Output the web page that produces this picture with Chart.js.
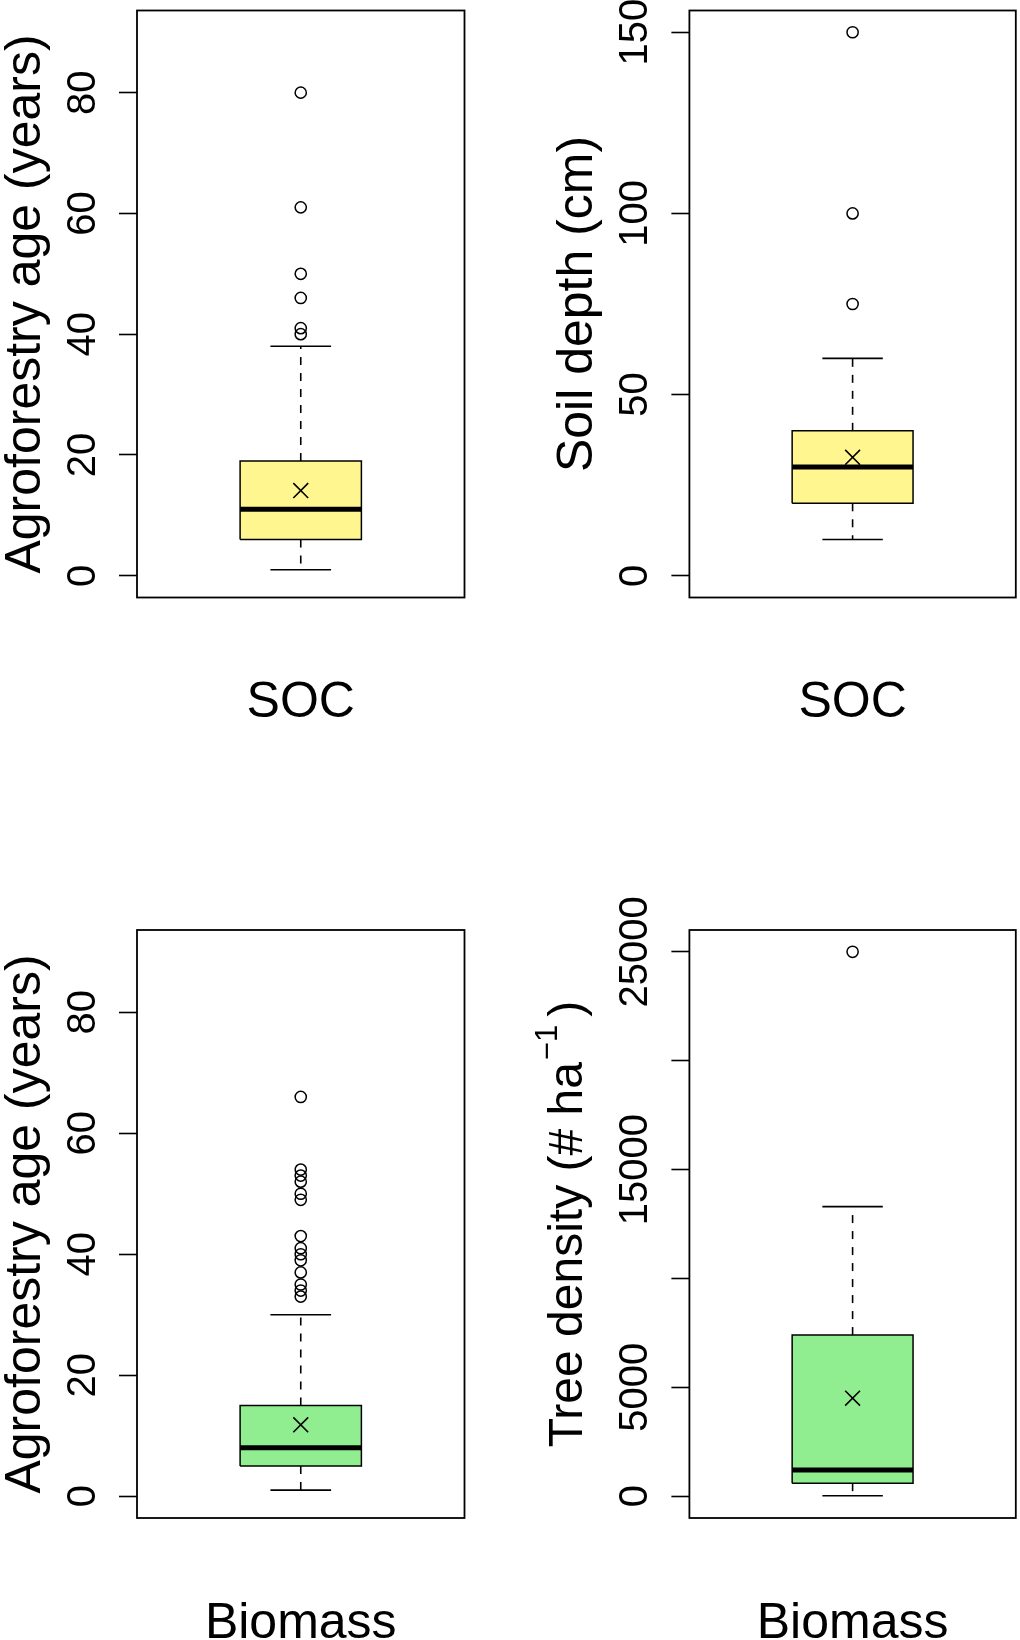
<!DOCTYPE html>
<html>
<head>
<meta charset="utf-8">
<script src="https://cdn.jsdelivr.net/npm/chart.js@4.4.1/dist/chart.umd.min.js"></script>
<style>
html,body{margin:0;padding:0;background:#fff;width:1020px;height:1640px;overflow:hidden}
canvas{position:absolute}
</style>
</head>
<body>
<canvas id="c0" width="510" height="820" style="left:0px;top:0px"></canvas>
<canvas id="c1" width="510" height="820" style="left:510px;top:0px"></canvas>
<canvas id="c2" width="510" height="820" style="left:0px;top:820px"></canvas>
<canvas id="c3" width="510" height="820" style="left:510px;top:820px"></canvas>
<script>
// ---------------- DATA ----------------
const panelCategories = ["SOC", "SOC", "Biomass", "Biomass"];
const panelYTitles = ["Agroforestry age (years)", "Soil depth (cm)", "Agroforestry age (years)", "Tree density (# ha"];
const panelYTitleSup = ["", "", "", "\u22121"];
const panelYTitleTail = ["", "", "", ")"];

const whiskerLow  = [1, 10, 1, 20];
const quartile1   = [6, 20, 5, 600];
const medians     = [11, 30, 8, 1200];
const quartile3   = [19, 40, 15, 7400];
const whiskerHigh = [38, 60, 30, 13300];
const means       = [14.1, 32.7, 11.8, 4500];

const outliersSocAge     = [80, 61, 50, 46, 41, 40];
const outliersSocDepth   = [150, 100, 75];
const outliersBioAge     = [66, 54, 53, 52, 50, 49, 43, 41, 40, 39, 37, 35, 34, 33];
const outliersBioDensity = [25000];
const panelOutliers = [outliersSocAge, outliersSocDepth, outliersBioAge, outliersBioDensity];

const ticksAge = [0, 20, 40, 60, 80];
const tickLabelsAge = ["0", "20", "40", "60", "80"];
const ticksDepth = [0, 50, 100, 150];
const tickLabelsDepth = ["0", "50", "100", "150"];
const ticksDensity = [0, 5000, 10000, 15000, 20000, 25000];
const tickLabelsDensity = ["0", "5000", "", "15000", "", "25000"];
const panelTicks = [ticksAge, ticksDepth, ticksAge, ticksDensity];
const panelTickLabels = [tickLabelsAge, tickLabelsDepth, tickLabelsAge, tickLabelsDensity];

const yMin = [-3.6, -6, -3.6, -1000];
const yMax = [93.6, 156, 93.6, 26000];

// ---------------- STYLE / LAYOUT ----------------
const boxColors = ["#FFF68F", "#FFF68F", "#90EE90", "#90EE90"];
const FONT = '"Liberation Sans", Arial, Helvetica, sans-serif';
const TICK_LEN = 18;
const panelPadding = [
  {left: 119, right: 45.5, top: 10.5, bottom: 222.5},
  {left: 161.4, right: 4.2, top: 10.5, bottom: 222.5},
  {left: 119, right: 45.5, top: 110, bottom: 122},
  {left: 161.4, right: 4.2, top: 110, bottom: 122}
];
const titleFontSize = [50, 50, 50, 48];
const titleOffset = [97.5, 97.5, 97.5, 107];
const BOX_HALF = 0.2, CAP_HALF = 0.1, XC = 1;

function decorPlugin(i) {
  return {
    id: 'decor' + i,
    afterDraw(chart) {
      const ctx = chart.ctx, a = chart.chartArea, ys = chart.scales.y;
      ctx.save();
      ctx.strokeStyle = '#000';
      ctx.lineWidth = 1.8;
      ctx.strokeRect(a.left, a.top, a.right - a.left, a.bottom - a.top);
      ctx.fillStyle = '#000';
      // tick labels
      ctx.font = '40px ' + FONT;
      ctx.textAlign = 'center';
      ctx.textBaseline = 'alphabetic';
      panelTicks[i].forEach((v, k) => {
        const lab = panelTickLabels[i][k];
        if (!lab) return;
        const y = ys.getPixelForValue(v);
        ctx.save();
        ctx.translate(a.left - 42.5, y);
        ctx.rotate(-Math.PI / 2);
        ctx.fillText(lab, 0, 0);
        ctx.restore();
      });
      // y title
      const cy = (a.top + a.bottom) / 2;
      ctx.save();
      ctx.translate(a.left - titleOffset[i], cy);
      ctx.rotate(-Math.PI / 2);
      ctx.textAlign = 'left';
      const fs = titleFontSize[i];
      ctx.font = fs + 'px ' + FONT;
      const main = panelYTitles[i];
      const w1 = ctx.measureText(main).width;
      let total = w1, ws = 0, wt = 0;
      const sup = panelYTitleSup[i], tail = panelYTitleTail[i];
      if (sup) { ctx.font = '31px ' + FONT; ws = ctx.measureText(sup).width; total += ws + 2; }
      if (tail) { ctx.font = fs + 'px ' + FONT; wt = ctx.measureText(tail).width; total += wt + 8; }
      let x0 = -total / 2;
      ctx.font = fs + 'px ' + FONT;
      ctx.fillText(main, x0, 0);
      x0 += w1;
      if (sup) {
        ctx.font = '31px ' + FONT;
        ctx.fillText(sup, x0 + 2, -25);
        x0 += ws + 2;
      }
      if (tail) {
        ctx.font = fs + 'px ' + FONT;
        ctx.fillText(tail, x0 + 8, 0);
      }
      ctx.restore();
      // category label
      ctx.font = '50px ' + FONT;
      ctx.textAlign = 'center';
      ctx.fillText(panelCategories[i], (a.left + a.right) / 2, a.bottom + 119.5);
      ctx.restore();
    }
  };
}

function buildChart(i) {
  const q1 = quartile1[i], q3 = quartile3[i], md = medians[i];
  const lo = whiskerLow[i], hi = whiskerHigh[i];
  const lineBase = {showLine: true, pointRadius: 0, borderColor: '#000', borderWidth: 1.6, fill: false, tension: 0};
  const datasets = [
    Object.assign({}, lineBase, {
      label: 'box',
      data: [{x: XC - BOX_HALF, y: q1}, {x: XC + BOX_HALF, y: q1}, {x: XC + BOX_HALF, y: q3}, {x: XC - BOX_HALF, y: q3}, {x: XC - BOX_HALF, y: q1}],
      fill: 'shape', backgroundColor: boxColors[i], borderWidth: 1.5, order: 6
    }),
    Object.assign({}, lineBase, {label: 'whiskerHigh', data: [{x: XC, y: q3}, {x: XC, y: hi}], borderDash: [8, 8], order: 5}),
    Object.assign({}, lineBase, {label: 'whiskerLow', data: [{x: XC, y: q1}, {x: XC, y: lo}], borderDash: [8, 8], order: 5}),
    Object.assign({}, lineBase, {label: 'capHigh', data: [{x: XC - CAP_HALF, y: hi}, {x: XC + CAP_HALF, y: hi}], order: 4}),
    Object.assign({}, lineBase, {label: 'capLow', data: [{x: XC - CAP_HALF, y: lo}, {x: XC + CAP_HALF, y: lo}], order: 4}),
    Object.assign({}, lineBase, {label: 'median', data: [{x: XC - BOX_HALF, y: md}, {x: XC + BOX_HALF, y: md}], borderWidth: 5, order: 3}),
    {
      label: 'outliers', data: panelOutliers[i].map(v => ({x: XC, y: v})), showLine: false,
      pointStyle: 'circle', pointRadius: 5.6, pointBackgroundColor: 'rgba(0,0,0,0)',
      pointBorderColor: '#000', pointBorderWidth: 1.5, order: 2
    },
    {
      label: 'mean', data: [{x: XC, y: means[i]}], showLine: false,
      pointStyle: 'crossRot', pointRadius: 10.5, pointBorderColor: '#000', pointBorderWidth: 1.6, order: 1
    }
  ];
  return new Chart(document.getElementById('c' + i), {
    type: 'scatter',
    data: {datasets},
    options: {
      responsive: false, animation: false, devicePixelRatio: 1, events: [],
      layout: {padding: panelPadding[i], autoPadding: false},
      plugins: {legend: {display: false}, tooltip: {enabled: false}, title: {display: false}},
      scales: {
        x: {type: 'linear', min: 0.46, max: 1.54, display: false},
        y: {
          type: 'linear', min: yMin[i], max: yMax[i],
          afterBuildTicks: s => { s.ticks = panelTicks[i].map(v => ({value: v})); },
          ticks: {display: false},
          border: {display: false},
          grid: {display: true, drawOnChartArea: false, drawTicks: true, tickLength: TICK_LEN, tickWidth: 1.6, tickColor: '#000'}
        }
      }
    },
    plugins: [decorPlugin(i)]
  });
}
[0, 1, 2, 3].forEach(buildChart);
</script>
</body>
</html>
